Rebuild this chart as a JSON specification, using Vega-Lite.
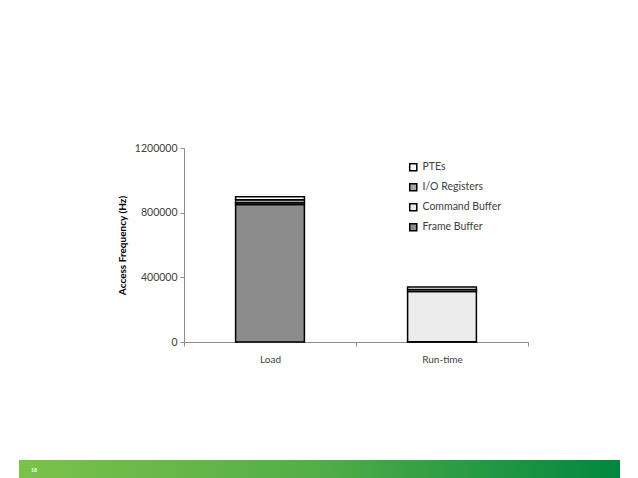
{
  "$schema": "https://vega.github.io/schema/vega-lite/v6.json",
  "background": "white",
  "padding": {"top": 143, "left": 19, "right": 18, "bottom": 0},
  "spacing": 96,
  "config": {
    "view": {"stroke": null},
    "font": "Lato"
  },
  "datasets": {
    "bars": [
      {"phase": "Load", "component": "Frame Buffer", "rank": 1, "freq": 850000},
      {"phase": "Load", "component": "Command Buffer", "rank": 2, "freq": 12000},
      {"phase": "Load", "component": "I/O Registers", "rank": 3, "freq": 18000},
      {"phase": "Load", "component": "PTEs", "rank": 4, "freq": 18000},
      {"phase": "Run-time", "component": "Frame Buffer", "rank": 1, "freq": 2000},
      {"phase": "Run-time", "component": "Command Buffer", "rank": 2, "freq": 310000},
      {"phase": "Run-time", "component": "I/O Registers", "rank": 3, "freq": 12000},
      {"phase": "Run-time", "component": "PTEs", "rank": 4, "freq": 16000}
    ],
    "footer": [{"page": "18", "pos": 2.5}]
  },
  "resolve": {"legend": {"color": "independent"}, "scale": {"color": "independent"}},
  "vconcat": [
    {
      "spacing": 0,
      "resolve": {"legend": {"color": "independent"}, "scale": {"color": "independent"}},
      "hconcat": [
        {
          "width": 98,
          "height": 194,
          "data": {"values": []},
          "mark": {"type": "point", "opacity": 0},
          "encoding": {}
        },
        {
          "width": 344,
          "height": 194,
          "data": {"name": "bars"},
          "mark": {"type": "bar", "width": {"band": 0.4}, "stroke": "black", "strokeWidth": 1.5},
          "encoding": {
            "x": {
              "field": "phase",
              "type": "nominal",
              "sort": ["Load", "Run-time"],
              "scale": {"paddingInner": 0, "paddingOuter": 0},
              "axis": {
                "title": null,
                "labelAngle": 0,
                "tickBand": "extent",
                "domainColor": "#8c8c8c",
                "tickColor": "#8c8c8c",
                "tickSize": 4,
                "labelColor": "#404040",
                "labelFontSize": 10,
                "labelPadding": 8
              }
            },
            "y": {
              "field": "freq",
              "type": "quantitative",
              "aggregate": "sum",
              "stack": "zero",
              "scale": {"domain": [0, 1200000]},
              "axis": {
                "title": "Access Frequency (Hz)",
                "titleFontSize": 10,
                "titleFontWeight": "bold",
                "titleColor": "black",
                "titlePadding": 7,
                "values": [0, 400000, 800000, 1200000],
                "format": "d",
                "grid": false,
                "domainColor": "#8c8c8c",
                "tickColor": "#8c8c8c",
                "tickSize": 4,
                "labelColor": "#404040",
                "labelFontSize": 10.5,
                "labelPadding": 3
              }
            },
            "color": {
              "field": "component",
              "type": "nominal",
              "scale": {
                "domain": ["PTEs", "I/O Registers", "Command Buffer", "Frame Buffer"],
                "range": ["#ffffff", "#a6a6a6", "#ececec", "#8c8c8c"]
              },
              "legend": {
                "title": null,
                "orient": "none",
                "legendX": 224,
                "legendY": 14,
                "symbolType": "square",
                "symbolSize": 50,
                "symbolStrokeColor": "black",
                "symbolStrokeWidth": 1.5,
                "labelFontSize": 10.5,
                "labelColor": "#404040",
                "rowPadding": 6,
                "labelOffset": 4
              }
            },
            "order": {"field": "rank", "type": "quantitative"}
          }
        }
      ]
    },
    {
      "width": 601,
      "height": 20,
      "data": {"name": "footer"},
      "layer": [
        {
          "mark": {
            "type": "rect",
            "fill": {
              "gradient": "linear",
              "x1": 0, "x2": 1, "y1": 0, "y2": 0,
              "stops": [
                {"offset": 0, "color": "#7cc24a"},
                {"offset": 0.5, "color": "#52ad48"},
                {"offset": 1, "color": "#00873f"}
              ]
            }
          },
          "encoding": {}
        },
        {
          "mark": {"type": "text", "color": "white", "fontSize": 5, "fontWeight": "bold"},
          "encoding": {
            "x": {"field": "pos", "type": "quantitative", "scale": {"domain": [0, 100]}, "axis": null},
            "text": {"field": "page"}
          }
        }
      ]
    }
  ]
}
